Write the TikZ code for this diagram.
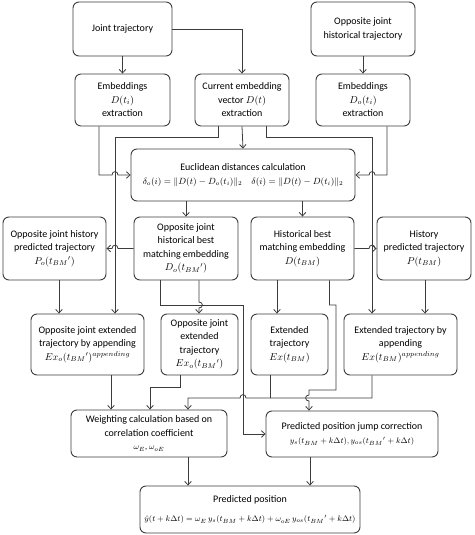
\documentclass[tikz,border=0pt]{standalone}
\usepackage{fontspec}
\setmainfont{Carlito}
\usetikzlibrary{arrows.meta}
\definecolor{lc}{RGB}{60,60,60}
\begin{document}
\begin{tikzpicture}[x=1pt,y=-1pt,
  box/.style={draw=lc, line width=0.9pt, rounded corners=6pt, align=center, inner sep=1pt, text=black, font=\fontsize{10}{13.5}\selectfont},
  arr/.style={draw=lc, line width=0.8pt, -{Straight Barb[length=3.5pt,width=6.5pt]}},
  ln/.style={draw=lc, line width=0.8pt}]
\useasboundingbox (0,0) rectangle (474,535);
\newcommand\bx[6]{\node[box, minimum width={(#4-#2)*1pt}, minimum height={(#5-#3)*1pt}] (#1) at ({(#2+#4)/2},{(#3+#5)/2}) {#6};}
\bx{jt}{73}{2}{172}{56}{Joint trajectory}
\bx{ojht}{311}{2}{415}{56}{Opposite joint\\historical trajectory}
\bx{edi}{75}{74}{170}{126}{Embeddings\\$D(t_i)$\\extraction}
\bx{ced}{195}{74}{289}{126}{Current embedding\\vector $D(t)$\\extraction}
\bx{edo}{316}{74}{410}{126}{Embeddings\\$D_o(t_i)$\\extraction}
\bx{euc}{131}{149}{355}{201}{Euclidean distances calculation\\[1pt]{\fontsize{9}{11}\selectfont$\delta_o(i)=\|D(t)-D_o(t_i)\|_2\quad \delta(i)=\|D(t)-D(t_i)\|_2$}}
\bx{ojhp}{3}{217}{106}{280}{Opposite joint history\\predicted trajectory\\$P_o(t_{BM}{}')$}
\bx{ohbm}{134}{217}{238}{280}{Opposite joint\\historical best\\matching embedding\\$D_o(t_{BM}{}')$}
\bx{hbm}{251}{217}{354}{280}{Historical best\\matching embedding\\$D(t_{BM})$}
\bx{hpt}{377}{217}{471}{280}{History\\predicted trajectory\\$P(t_{BM})$}
\bx{ojea}{31}{314}{144}{375}{Opposite joint extended\\trajectory by appending\\$Ex_o(t_{BM}{}')^{appending}$}
\bx{ojet}{161}{314}{238}{375}{Opposite joint\\extended\\trajectory\\$Ex_o(t_{BM}{}')$}
\bx{et}{251}{314}{328}{375}{Extended\\trajectory\\$Ex(t_{BM})$}
\bx{eta}{344}{314}{457}{375}{Extended trajectory by\\appending\\$Ex(t_{BM})^{appending}$}
\bx{wc}{71}{410}{227}{457}{Weighting calculation based on\\correlation coefficient\\{\fontsize{8.5}{11}\selectfont$\omega_E$, $\omega_{oE}$}}
\bx{pjc}{266}{411}{438}{457}{Predicted position jump correction\\[1pt]{\fontsize{8.2}{10}\selectfont$y_s(t_{BM}+k\Delta t), y_{os}(t_{BM}{}'+k\Delta t)$}}
\bx{pp}{140}{486}{360}{533}{Predicted position\\[6pt]{\fontsize{8}{10}\selectfont$\hat{y}(t+k\Delta t)=\omega_E\, y_s(t_{BM}+k\Delta t)+\omega_{oE}\, y_{os}(t_{BM}{}'+k\Delta t)$}}
% x reference coordinates
\foreach \v in {59,99,111,115,150,160,180,188,199,218,266,270,277,309,310,372,387,425}
  \coordinate (X\v) at (\v,0);
\coordinate (Xhb) at (329.5,0);
% connectors
\draw[arr] (jt.south) -- (edi.north);
\draw[arr] (jt.east) -| (ced.north);
\draw[arr] (ojht.south) -- (edo.north);
\draw[arr] (edi.south -| X99) -- (99,175) -- (112,175) .. controls (112,170.5) and (118,170.5) .. (118,175) -- (euc.west);
\draw[arr] (ced.south -| X218) |- (115,137) -- (ojea.north -| X115);
\draw[arr] (ced.south) -- (euc.north);
\draw[arr] (ced.south -| X266) |- (372,137) -- (eta.north -| X372);
\draw[arr] (edo.south -| X387) -- (387,175) -- (375,175) .. controls (375,170.5) and (369,170.5) .. (369,175) -- (euc.east);
\draw[arr] (euc.south -| ohbm.north) -- (ohbm.north);
\draw[arr] (euc.south -| hbm.north) -- (hbm.north);
\draw[arr] (ohbm.west) -- (118,248.5) .. controls (118,244) and (112,244) .. (112,248.5) -- (ojhp.east);
\draw[arr] (hbm.east) -- (369,248.5) .. controls (369,244) and (375,244) .. (375,248.5) -- (hpt.west);
\draw[arr] (ojhp.south -| X59) -- (ojea.north -| X59);
\draw[arr] (ohbm.south -| X199) -- (199,302) .. controls (203.5,302) and (203.5,308) .. (199,308) -- (ojet.north -| X199);
\draw[arr] (ohbm.south -| X160) |- (243,305) |- (pjc.west);
\draw[arr] (hbm.south -| X277) -- (et.north -| X277);
\draw[arr] (hbm.south -| Xhb) |- (336,305) |- (309,390) -- (309,395) .. controls (304.5,395) and (304.5,401) .. (309,401) -- (pjc.north -| X309);
\draw[arr] (hpt.south -| X425) -- (eta.north -| X425);
\draw[arr] (ojea.south -| X111) -- (wc.north -| X111);
\draw[arr] (ojet.south -| X180) |- (150,387) -- (wc.north -| X150);
\draw[ln] (et.south -| X270) -- (270,398);
\draw[arr] (eta.south -| X372) |- (246,398) .. controls (246,393.5) and (240,393.5) .. (240,398) -| (wc.north -| X188);
\draw[arr] (wc.south -| X188) -- (pp.north -| X188);
\draw[arr] (pjc.south -| X310) -- (pp.north -| X310);
\end{tikzpicture}
\end{document}
